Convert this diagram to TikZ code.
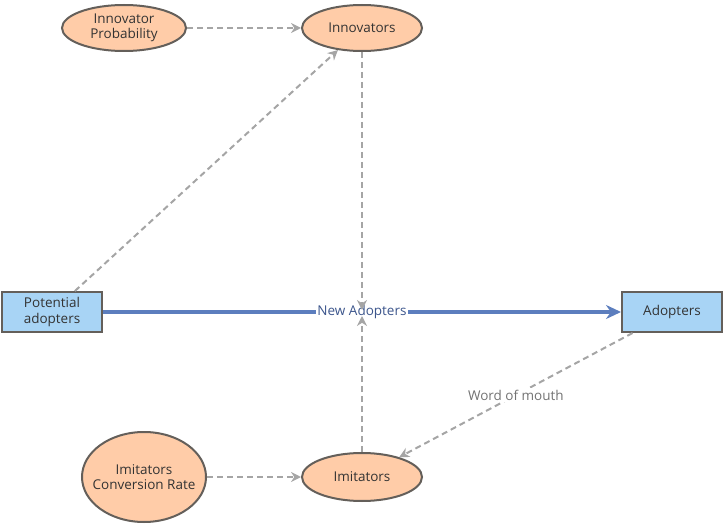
\documentclass[tikz,border=0pt]{standalone}
\usepackage{fontspec}
\setmainfont{Open Sans}
\usetikzlibrary{shapes.geometric,arrows.meta}
\definecolor{peach}{RGB}{255,204,168}
\definecolor{boxblue}{RGB}{168,212,245}
\definecolor{edge}{RGB}{100,95,90}
\definecolor{flowblue}{RGB}{92,126,190}
\definecolor{labblue}{RGB}{60,85,140}
\definecolor{dashgray}{RGB}{165,165,165}
\newcommand{\zwline}[1]{\makebox[0pt]{#1}}
\begin{document}
\begin{tikzpicture}[x=1pt,y=-1pt,
  lbl/.style={font=\fontsize{13.5}{15.5}\selectfont},
  oval/.style={ellipse,draw=edge,line width=2pt,fill=peach,inner sep=0pt,align=center,lbl,text=black!80},
  stock/.style={rectangle,draw=edge,line width=2pt,fill=boxblue,inner sep=0pt,align=center,minimum width=100pt,minimum height=40pt,lbl,text=black!80},
  link/.style={draw=dashgray,line width=2pt,dash pattern=on 6pt off 4pt,-{Stealth[length=10pt,width=10pt]}},
  flow/.style={draw=flowblue,line width=3.5pt,-{Stealth[length=15pt,width=14pt]}}]
\useasboundingbox (0,0) rectangle (724,524);
\node[oval,minimum width=124pt,minimum height=46pt] (ip) at (124,28) {\zwline{Innovator}\\\zwline{Probability}};
\node[oval,minimum width=120pt,minimum height=46pt] (inn) at (362,28) {\zwline{Innovators}};
\node[stock] (pa) at (52,312) {Potential\\adopters};
\node[stock] (ad) at (672,312) {Adopters};
\node[oval,minimum width=120pt,minimum height=48pt] (imi) at (362,477) {\zwline{Imitators}};
\node[oval,minimum width=124pt,minimum height=90pt] (icr) at (144,477) {\zwline{Imitators}\\\zwline{Conversion Rate}};
\coordinate (na1) at (362,310);
\coordinate (na2) at (362,316);
\draw[flow] (pa) -- node[fill=white,inner sep=1pt,text=labblue,lbl] {New Adopters} (ad);
\draw[link] (ip) -- (inn);
\draw[link] (pa) -- (inn);
\draw[link] (inn) -- (na1);
\draw[link] (imi) -- (na2);
\draw[link] (icr) -- (imi);
\draw[link] (ad) -- node[fill=white,inner sep=2pt,text=black!55,lbl] {Word of mouth} (imi);
\end{tikzpicture}
\end{document}
